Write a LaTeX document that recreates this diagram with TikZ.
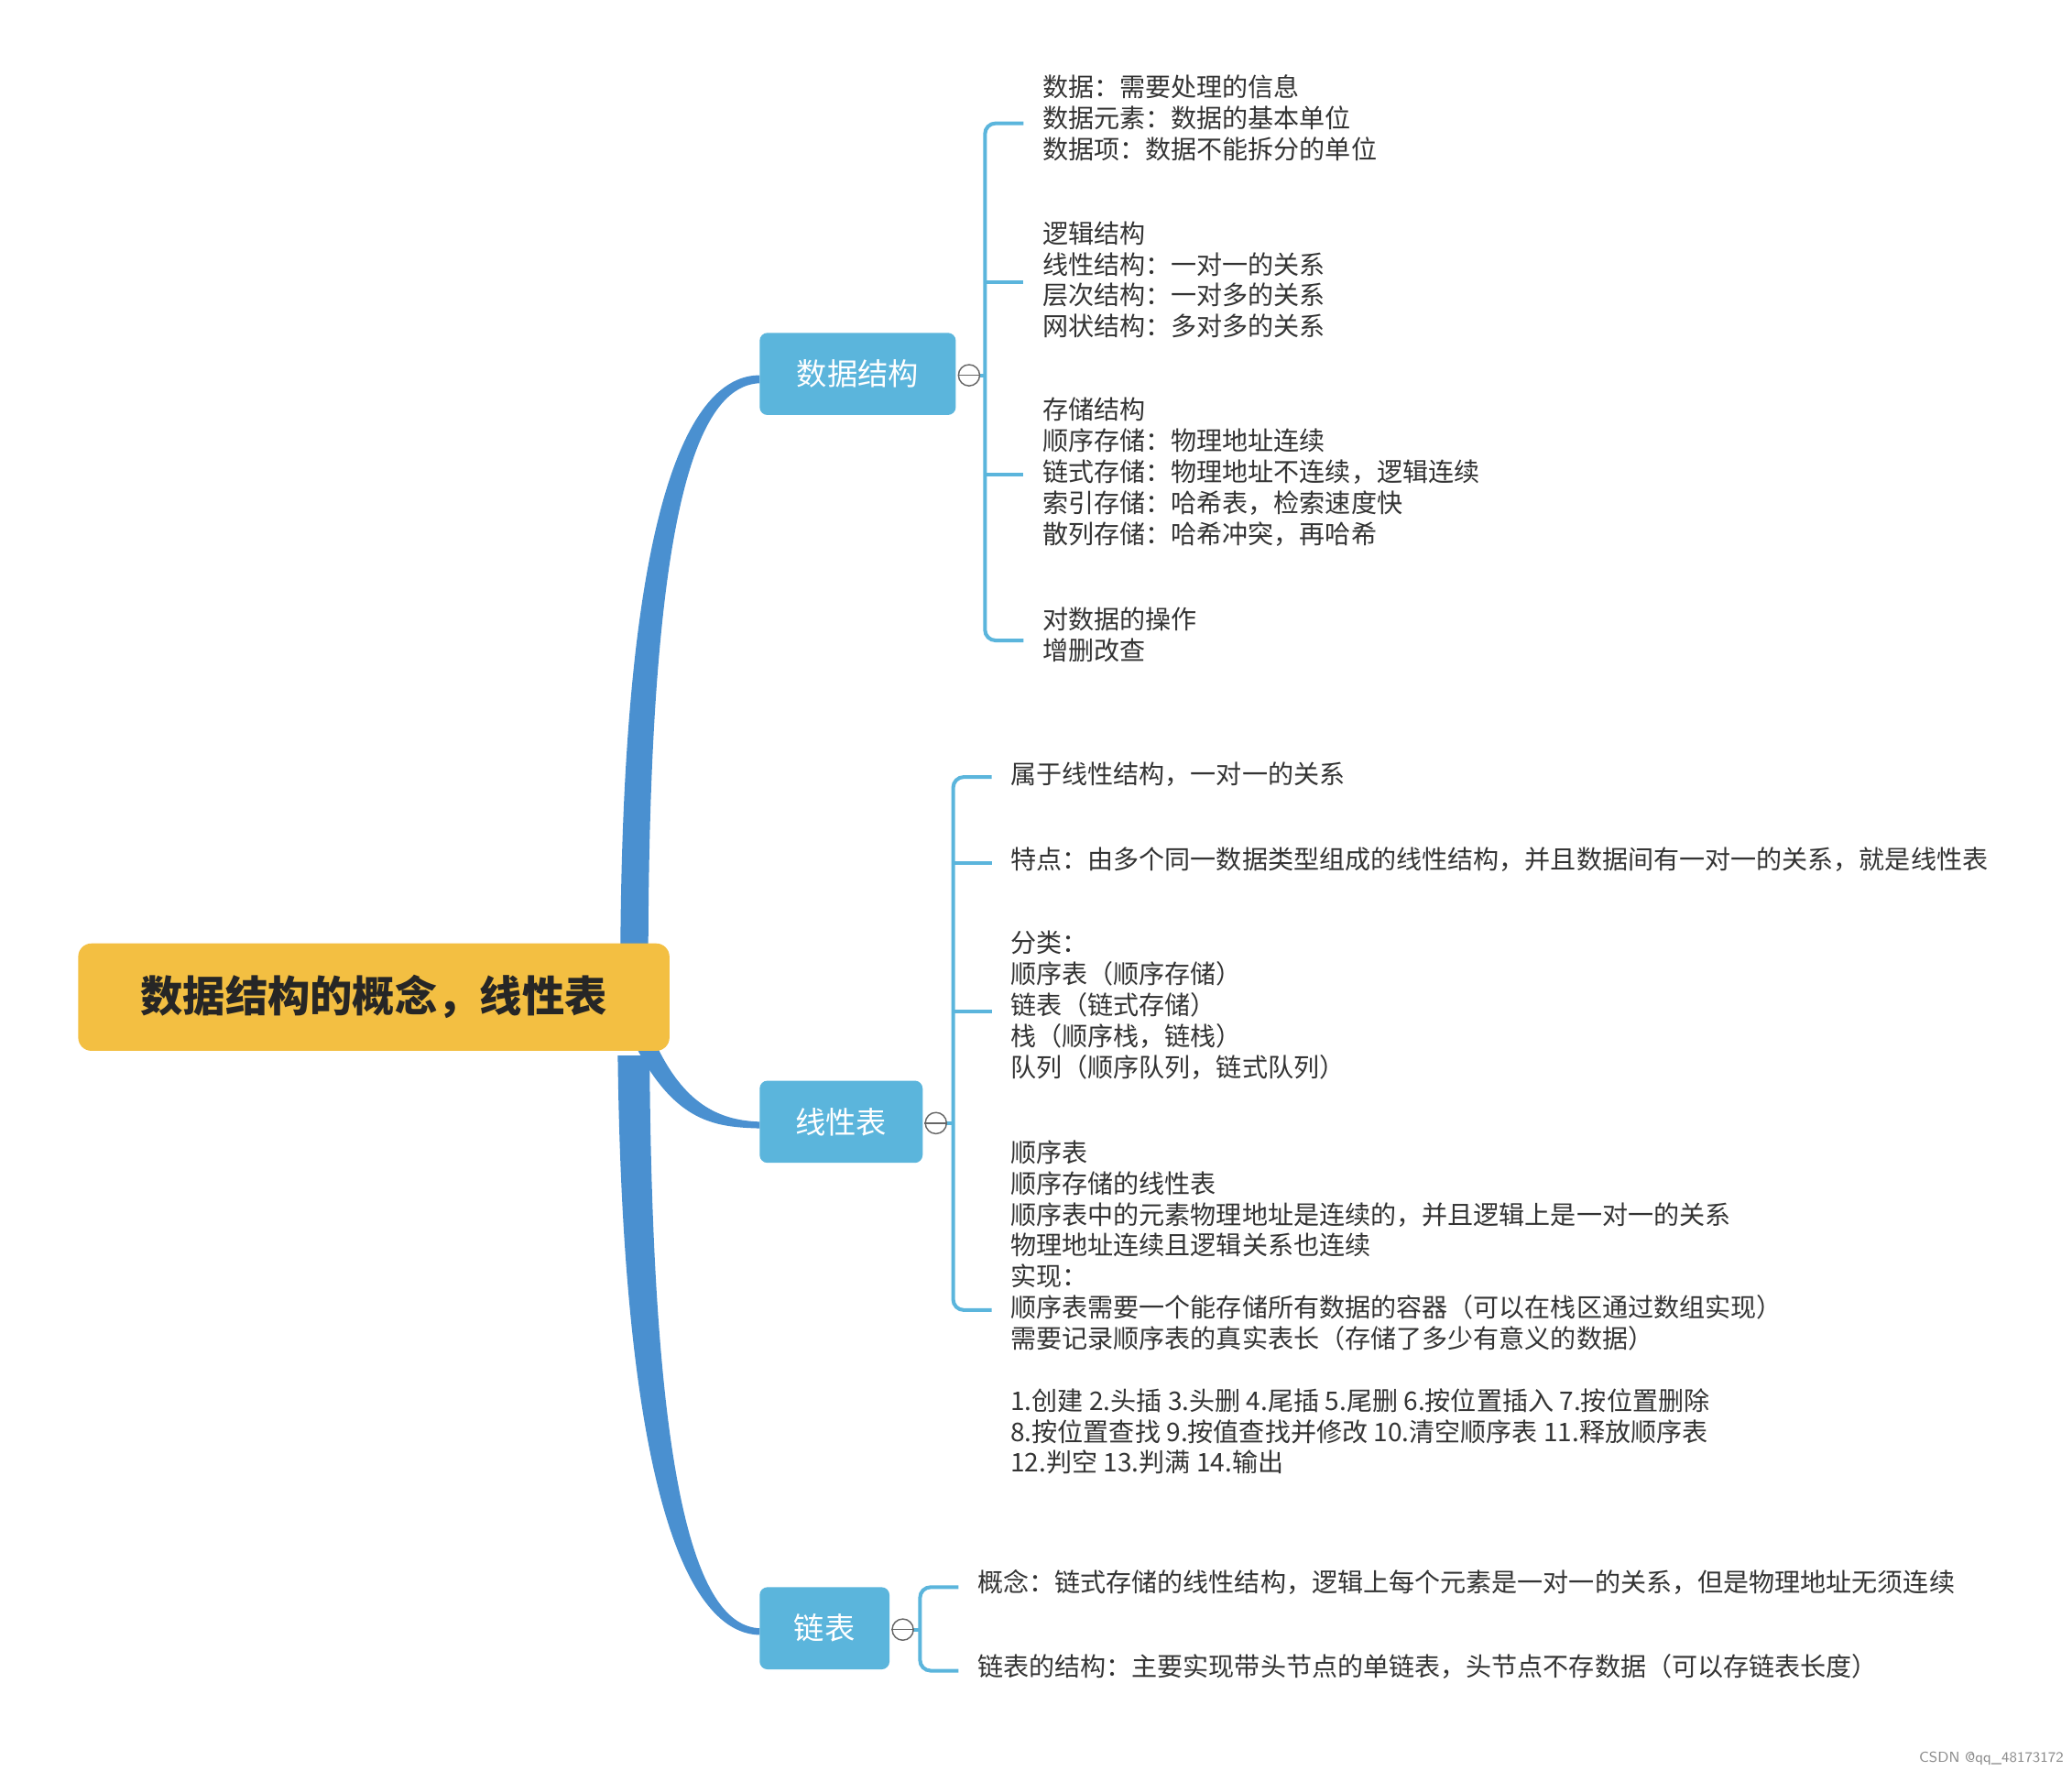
\documentclass[tikz,border=0pt]{standalone}
\usepackage{fontspec}
\newfontfamily\cjk{Noto Sans CJK SC}
\begin{document}
\begin{tikzpicture}[x=0.5pt,y=-0.5pt,
  txt/.style={anchor=west,align=left,font=\cjk\fontsize{9.7}{11.7}\selectfont,text=black!80,inner sep=0pt},
  branch/.style={fill=brc,rounded corners=3pt,text=white,font=\cjk\fontsize{11.5}{13}\selectfont,inner sep=0pt},
  brk/.style={draw=brc,line width=1.4pt,rounded corners=4pt},
  mainc/.style={fill=mainblue},
  minus/.style={circle,draw=black!60,fill=white,minimum size=8pt,inner sep=0pt,line width=0.5pt}]
\definecolor{brc}{HTML}{5BB5DC}
\definecolor{mainblue}{HTML}{4A90D0}
\definecolor{rootc}{HTML}{F3BF42}
\useasboundingbox (0,0) rectangle (1563,1335);
% main curves
\fill[mainc] (468,715) .. controls (470,380) and (520,283) .. (573,283) -- (573,289) .. controls (527,291) and (490,380) .. (489,715) -- cycle;
\fill[mainc] (466,796) .. controls (470,1130) and (520,1232) .. (573,1233) -- (573,1228) .. controls (527,1226) and (492,1130) .. (490,796) -- cycle;
\fill[mainc] (480,790) .. controls (510,847) and (540,850) .. (573,851) -- (573,846) .. controls (545,845) and (518,835) .. (496,790) -- cycle;
% root
\node[fill=rootc,rounded corners=5pt,minimum width=223pt,minimum height=40.5pt,inner sep=0pt,font=\cjk\bfseries\fontsize{16}{18}\selectfont,text=black!85] (root) at (282,752) {数据结构的概念，线性表};
% branches
\node[branch,minimum width=74pt,minimum height=31pt] (ds) at (647,282) {数据结构};
\node[branch,minimum width=61.5pt,minimum height=31pt] (lin) at (634.5,846) {线性表};
\node[branch,minimum width=49pt,minimum height=31pt] (ll) at (622,1228) {链表};
% brackets
\draw[brk] (772,93) -- (743,93) -- (743,483) -- (772,483);
\draw[brk] (743,213) -- (772,213);
\draw[brk] (743,358) -- (772,358);
\draw[brk] (731,283) -- (743,283);
\draw[brk] (748,586) -- (719,586) -- (719,988) -- (748,988);
\draw[brk] (719,651) -- (748,651);
\draw[brk] (719,763) -- (748,763);
\draw[brk] (706,847) -- (719,847);
\draw[brk] (723,1197) -- (694,1197) -- (694,1260) -- (723,1260);
\draw[brk] (681,1229) -- (694,1229);
\node[minus] (m1) at (731,283) {}; \draw[black!60,line width=0.5pt] (m1.west) -- (m1.east);
\node[minus] (m2) at (706,847) {}; \draw[black!60,line width=0.5pt] (m2.west) -- (m2.east);
\node[minus] (m3) at (681,1229) {}; \draw[black!60,line width=0.5pt] (m3.west) -- (m3.east);
% texts
\node[txt] (t1) at (786,89) {数据：需要处理的信息\\数据元素：数据的基本单位\\数据项：数据不能拆分的单位};
\node[txt] (t2) at (786,211) {逻辑结构\\线性结构：一对一的关系\\层次结构：一对多的关系\\网状结构：多对多的关系};
\node[txt] (t3) at (786,356) {存储结构\\顺序存储：物理地址连续\\链式存储：物理地址不连续，逻辑连续\\索引存储：哈希表，检索速度快\\散列存储：哈希冲突，再哈希};
\node[txt] (t4) at (786,479) {对数据的操作\\增删改查};
\node[txt] (t5) at (762,584) {属于线性结构，一对一的关系};
\node[txt] (t6) at (762,648) {特点：由多个同一数据类型组成的线性结构，并且数据间有一对一的关系，就是线性表};
\node[txt] (t7) at (762,758) {分类：\\顺序表（顺序存储）\\链表（链式存储）\\栈（顺序栈，链栈）\\队列（顺序队列，链式队列）};
\node[txt] (t8) at (762,986) {顺序表\\顺序存储的线性表\\顺序表中的元素物理地址是连续的，并且逻辑上是一对一的关系\\物理地址连续且逻辑关系也连续\\实现：\\顺序表需要一个能存储所有数据的容器（可以在栈区通过数组实现）\\需要记录顺序表的真实表长（存储了多少有意义的数据）\\[11.7pt]1.创建 2.头插 3.头删 4.尾插 5.尾删 6.按位置插入 7.按位置删除\\8.按位置查找 9.按值查找并修改 10.清空顺序表 11.释放顺序表\\12.判空 13.判满 14.输出};
\node[txt] (t9) at (737,1193) {概念：链式存储的线性结构，逻辑上每个元素是一对一的关系，但是物理地址无须连续};
\node[txt] (t10) at (737,1257) {链表的结构：主要实现带头节点的单链表，头节点不存数据（可以存链表长度）};
\node[anchor=east,inner sep=0pt,font=\sffamily\fontsize{5.5}{6}\selectfont,text=black!45] (wm) at (1557,1326) {CSDN @qq\_48173172};
\end{tikzpicture}
\end{document}
